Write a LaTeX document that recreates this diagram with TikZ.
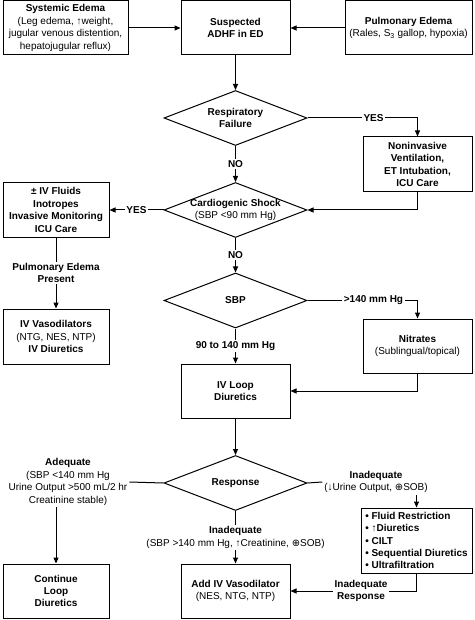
\documentclass[tikz,border=0pt]{standalone}
\usepackage{fontspec}
\setmainfont{Liberation Sans}
\newfontfamily\dejavu{DejaVu Sans}
\usetikzlibrary{shapes.geometric, arrows.meta}
\newcommand{\rg}[1]{{\mdseries #1}}
\newcommand{\circplus}{{\dejavu\char"2295}}
\begin{document}
\begin{tikzpicture}[x=1pt, y=-1pt, line width=1pt,
  font=\fontsize{10}{12.4}\selectfont\bfseries,
  box/.style={draw, fill=white, align=center, minimum height=54pt, inner sep=1pt},
  dec/.style={diamond, draw, fill=white, minimum width=143pt, minimum height=55pt, inner sep=0pt},
  lbl/.style={fill=white, align=center, inner sep=1.5pt},
  arr/.style={-{Triangle[length=6pt, width=5pt]}}]
\useasboundingbox (0,0) rectangle (474,620);

% top row
\node[box, minimum width=125pt] (sys) at (65.5,28) {Systemic Edema\\\rg{(Leg edema, ↑weight,}\\\rg{jugular venous distention,}\\\rg{hepatojugular reflux)}};
\node[box, minimum width=109pt] (adhf) at (235.5,28) {Suspected\\ADHF in ED};
\node[box, minimum width=127pt] (pulm) at (408.5,28) {Pulmonary Edema\\\rg{(Rales, S\textsubscript{3} gallop, hypoxia)}};

% decisions
\node[dec, label={[align=center]center:Respiratory\\Failure}] (resp) at (235.5,118) {};
\node[dec, label={[align=center]center:{Cardiogenic Shock\\\rg{(SBP <90 mm Hg)}}}] (card) at (235.5,210) {};
\node[dec, label={center:SBP}] (sbp) at (235.5,300.5) {};
\node[dec, label={center:Response}] (respo) at (235.5,483) {};

% side boxes
\node[box, minimum width=109pt, minimum height=55pt] (noninv) at (417.5,164.5) {Noninvasive\\Ventilation,\\ET Intubation,\\ICU Care};
\node[box, minimum width=106pt] (fluids) at (56,210) {± IV Fluids\\Inotropes\\Invasive Monitoring\\ICU Care};
\node[box, minimum width=106pt, minimum height=55pt] (vaso) at (56,336.5) {IV Vasodilators\\\rg{(NTG, NES, NTP)}\\IV Diuretics};
\node[box, minimum width=109pt] (nitr) at (417.5,346) {Nitrates\\\rg{(Sublingual/topical)}};
\node[box, minimum width=109pt] (loop) at (235.5,391) {IV Loop\\Diuretics};

% bottom part
\node[lbl] (adeq) at (68,482) {Adequate\\\rg{(SBP <140 mm Hg}\\\rg{Urine Output >500 mL/2 hr}\\\rg{Creatinine stable)}};
\node[lbl] (inadr) at (376,482) {Inadequate\\\rg{(↓Urine Output, \circplus SOB)}};
\node[box, align=left, minimum width=111pt, minimum height=65pt] (bul) at (416.5,540.5) {• Fluid Restriction\\• ↑Diuretics\\• CILT\\• Sequential Diuretics\\• Ultrafiltration};
\node[box, minimum width=106pt] (cont) at (56,591) {Continue\\Loop\\Diuretics};
\node[box, minimum width=109pt] (add) at (235.5,591) {Add IV Vasodilator\\\rg{(NES, NTG, NTP)}};

% connectors
\draw[arr] (sys.east) -- (adhf.west);
\draw[arr] (pulm.west) -- (adhf.east);
\draw[arr] (adhf) -- (resp);
\draw[arr] (resp.east) -| node[lbl, pos=0.3] (yes1) {YES} (noninv.north);
\draw[arr] (noninv.south) |- (card.east);
\draw[arr] (resp) -- node[lbl] (no1) {NO} (card);
\draw[arr] (card.west) -- node[lbl] (yes2) {YES} (fluids.east);
\draw[arr] (fluids) -- node[lbl] (pe) {Pulmonary Edema\\Present} (vaso);
\draw[arr] (card) -- node[lbl] (no2) {NO} (sbp);
\draw[arr] (sbp.east) -| node[lbl, pos=0.3] (hi) {>140 mm Hg} (nitr.north);
\draw[arr] (sbp) -- node[lbl] (mid) {90 to 140 mm Hg} (loop);
\draw[arr] (nitr.south) |- (loop.east);
\draw[arr] (loop) -- (respo);
\draw (respo.west) -- (adeq.east);
\draw[arr] (adeq.south -| cont.north) -- (cont.north);
\draw (respo.east) -- (inadr.west);
\draw[arr] (inadr.south -| bul.north) -- (bul.north);
\draw[arr] (respo) -- node[lbl] (inadb) {Inadequate\\\rg{(SBP >140 mm Hg, ↑Creatinine, \circplus SOB)}} (add);
\draw[arr] (bul.south) |- node[lbl, pos=0.72] (inadresp) {Inadequate\\Response} (add.east);

\end{tikzpicture}
\end{document}
